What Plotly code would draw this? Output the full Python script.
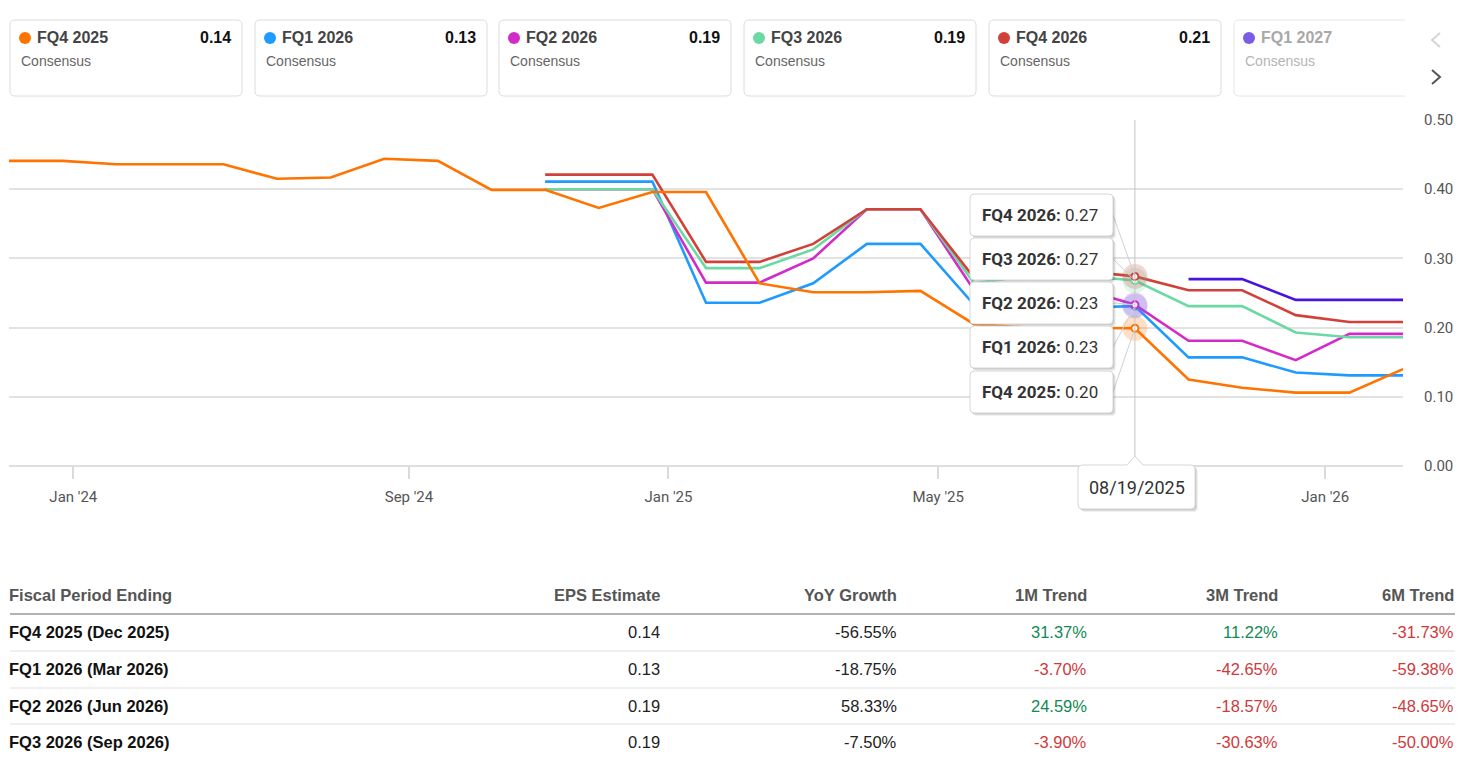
import plotly.graph_objects as go

# ---------------- data ----------------
series_names = ["FQ4 2025", "FQ1 2026", "FQ2 2026", "FQ3 2026", "FQ4 2026", "FQ1 2027"]
series_colors = ["#ff7300", "#1f9bff", "#d22bc8", "#6bd9a3", "#d1413a", "#4b12d9"]

fq4_2025 = [0.441, 0.441, 0.436, 0.436, 0.436, 0.415, 0.417, 0.444, 0.441, 0.399, 0.399, 0.373, 0.396, 0.396,
            0.264, 0.251, 0.251, 0.253, 0.205, 0.200, 0.199, 0.199, 0.125, 0.113, 0.106, 0.106, 0.140]
fq1_2026 = [None] * 10 + [0.411, 0.411, 0.411, 0.236, 0.236, 0.264, 0.321, 0.321, 0.233, 0.229, 0.229, 0.231,
                          0.157, 0.157, 0.135, 0.131, 0.131]
fq2_2026 = [None] * 10 + [0.400, 0.400, 0.400, 0.265, 0.265, 0.300, 0.371, 0.371, 0.254, 0.256, 0.256, 0.233,
                          0.181, 0.181, 0.153, 0.191, 0.191]
fq3_2026 = [None] * 10 + [0.400, 0.400, 0.400, 0.286, 0.286, 0.313, 0.371, 0.371, 0.264, 0.275, 0.275, 0.268,
                          0.231, 0.231, 0.193, 0.186, 0.186]
fq4_2026 = [None] * 10 + [0.421, 0.421, 0.421, 0.295, 0.295, 0.321, 0.371, 0.371, 0.272, 0.282, 0.282, 0.274,
                          0.254, 0.254, 0.218, 0.208, 0.208]
fq1_2027 = [None] * 22 + [0.270, 0.270, 0.240, 0.240, 0.240]
series_values = [fq4_2025, fq1_2026, fq2_2026, fq3_2026, fq4_2026, fq1_2027]

x_labels = ["Jan '24", "Sep '24", "Jan '25", "May '25", "Jan '26"]
x_label_positions = [1.2, 7.46, 12.3, 17.33, 24.55]
y_ticks = [0.0, 0.1, 0.2, 0.3, 0.4, 0.5]

hover_index = 21
hover_date = "08/19/2025"
tooltip_order = ["FQ4 2026", "FQ3 2026", "FQ2 2026", "FQ1 2026", "FQ4 2025"]

table_header = ["Fiscal Period Ending", "EPS Estimate", "YoY Growth", "1M Trend", "3M Trend", "6M Trend"]
periods = ["FQ4 2025 (Dec 2025)", "FQ1 2026 (Mar 2026)", "FQ2 2026 (Jun 2026)", "FQ3 2026 (Sep 2026)"]
eps_estimate = [0.14, 0.13, 0.19, 0.19]
yoy_growth = [-56.55, -18.75, 58.33, -7.50]
trend_1m = [31.37, -3.70, 24.59, -3.90]
trend_3m = [11.22, -42.65, -18.57, -30.63]
trend_6m = [-31.73, -59.38, -48.65, -50.00]

# ---------------- geometry helpers ----------------
PAGE_OFF = 8                      # page body margin
W, H = 1473 - 2 * PAGE_OFF, 761 - 2 * PAGE_OFF
PLOT_L, PLOT_R, PLOT_T, PLOT_B = 9, 1403, 120, 466
N = len(fq4_2025)
Y_MAX = 0.5


def px(x):
    return (x - PAGE_OFF) / W


def py(y):
    return 1 - (y - PAGE_OFF) / H


def val_to_pix_y(v):
    return PLOT_B - v / Y_MAX * (PLOT_B - PLOT_T)


def idx_to_pix_x(i):
    return PLOT_L + i * (PLOT_R - PLOT_L) / (N - 1)


def rrect(x0, y0, x1, y1, r, notch=None):
    rx, ry = r / W, r / H
    X0, X1, Y0, Y1 = px(x0), px(x1), py(y0), py(y1)
    p = f"M{X0 + rx},{Y0} "
    if notch:
        cx, hw, hh = notch
        p += f"L{px(cx - hw)},{Y0} L{px(cx)},{py(y0 - hh)} L{px(cx + hw)},{Y0} "
    p += (f"L{X1 - rx},{Y0} Q{X1},{Y0} {X1},{Y0 - ry} L{X1},{Y1 + ry} Q{X1},{Y1} {X1 - rx},{Y1} "
          f"L{X0 + rx},{Y1} Q{X0},{Y1} {X0},{Y1 + ry} L{X0},{Y0 - ry} Q{X0},{Y0} {X0 + rx},{Y0} Z")
    return p


shapes = []
annotations = []

# ---------------- traces ----------------
fig = go.Figure()
xs = list(range(N))
draw_order = [1, 2, 3, 4, 5, 0]
for k in draw_order:
    fig.add_trace(go.Scatter(x=xs, y=series_values[k], mode="lines", name=series_names[k],
                             line=dict(color=series_colors[k], width=2.6), connectgaps=False,
                             hoverinfo="skip", showlegend=False))

# crosshair
shapes.append(dict(type="line", xref="x", yref="paper", x0=hover_index, x1=hover_index,
                   y0=py(PLOT_T), y1=py(457), line=dict(color="#c4c4c4", width=1), layer="above"))

# hover markers
name_to_idx = {n: i for i, n in enumerate(series_names)}
for n in tooltip_order[::-1]:
    k = name_to_idx[n]
    v = series_values[k][hover_index]
    fig.add_trace(go.Scatter(x=[hover_index], y=[v], mode="markers", hoverinfo="skip", showlegend=False,
                             marker=dict(size=25, color=series_colors[k], opacity=0.22)))
for n in tooltip_order[::-1]:
    k = name_to_idx[n]
    v = series_values[k][hover_index]
    fig.add_trace(go.Scatter(x=[hover_index], y=[v], mode="markers", hoverinfo="skip", showlegend=False,
                             marker=dict(size=7, color="white", line=dict(color=series_colors[k], width=2))))

# ---------------- tooltips ----------------
tip_x0, tip_x1 = 970, 1113
tip_tops = [194, 238, 282, 326, 371]
tip_h = 42
hx = idx_to_pix_x(hover_index)
for n, top in zip(tooltip_order, tip_tops):
    k = name_to_idx[n]
    v = series_values[k][hover_index]
    mid = top + tip_h / 2
    shapes.append(dict(type="line", xref="paper", yref="paper", x0=px(tip_x1), y0=py(mid),
                       x1=px(hx), y1=py(val_to_pix_y(v)), line=dict(color="#d0d0d0", width=1), layer="above"))
for n, top in zip(tooltip_order, tip_tops):
    k = name_to_idx[n]
    v = series_values[k][hover_index]
    for off, a in [(3, 0.06), (2, 0.08), (1, 0.10)]:
        shapes.append(dict(type="path", xref="paper", yref="paper",
                           path=rrect(tip_x0 + off, top + off, tip_x1 + off, top + tip_h + off, 4),
                           fillcolor=f"rgba(0,0,0,{a})", line=dict(width=0), layer="above"))
    shapes.append(dict(type="path", xref="paper", yref="paper", path=rrect(tip_x0, top, tip_x1, top + tip_h, 4),
                       fillcolor="white", line=dict(color="#d6d6d6", width=1), layer="above"))
    annotations.append(dict(xref="paper", yref="paper", x=px(tip_x0 + 10), y=py(top + tip_h / 2),
                            xanchor="left", yanchor="middle", showarrow=False,
                            text=f"<b>{n}:</b> {v:.2f}",
                            font=dict(family="Roboto", size=17, color="#333333")))

# date box
dx0, dx1, dy0, dy1 = 1078, 1195, 465, 509
for off, a in [(3, 0.06), (2, 0.08), (1, 0.10)]:
    shapes.append(dict(type="path", xref="paper", yref="paper",
                       path=rrect(dx0 + off, dy0 + off, dx1 + off, dy1 + off, 4),
                       fillcolor=f"rgba(0,0,0,{a})", line=dict(width=0), layer="above"))
shapes.append(dict(type="path", xref="paper", yref="paper",
                   path=rrect(dx0, dy0, dx1, dy1, 4, notch=(hx, 8, 9)),
                   fillcolor="white", line=dict(color="#d6d6d6", width=1), layer="above"))
annotations.append(dict(xref="paper", yref="paper", x=px((dx0 + dx1) / 2), y=py((dy0 + dy1) / 2),
                        xanchor="center", yanchor="middle", showarrow=False, text=hover_date,
                        font=dict(family="Roboto", size=18, color="#333333")))

# ---------------- legend cards ----------------
card_x = [10, 255, 499, 744, 989, 1234]
card_w = 232
card_t, card_b = 20, 96
for i, (n, c, vals) in enumerate(zip(series_names, series_colors, series_values)):
    x0 = card_x[i]
    faded = (i == len(series_names) - 1)
    if not faded:
        shapes.append(dict(type="path", xref="paper", yref="paper", path=rrect(x0, card_t, x0 + card_w, card_b, 5),
                           fillcolor="white", line=dict(color="#dcdcdc", width=1)))
    else:
        rx, ry = 5 / W, 5 / H
        X0, X1, Y0, Y1 = px(x0), px(1405), py(card_t), py(card_b)
        path = (f"M{X1},{Y0} L{X0 + rx},{Y0} Q{X0},{Y0} {X0},{Y0 - ry} L{X0},{Y1 + ry} "
                f"Q{X0},{Y1} {X0 + rx},{Y1} L{X1},{Y1}")
        shapes.append(dict(type="path", xref="paper", yref="paper", path=path,
                           line=dict(color="#e6e6e6", width=1)))
    dot_c = "#7b5ce6" if faded else c
    shapes.append(dict(type="circle", xref="paper", yref="paper", x0=px(x0 + 9), x1=px(x0 + 21),
                       y0=py(32), y1=py(44), fillcolor=dot_c, line=dict(width=0)))
    annotations.append(dict(xref="paper", yref="paper", x=px(x0 + 25), y=py(38), xanchor="left", yanchor="middle",
                            showarrow=False, text=f"<b>{n}</b>",
                            font=dict(family="Liberation Sans, Arial", size=16,
                                      color="#a8a8a8" if faded else "#444444")))
    annotations.append(dict(xref="paper", yref="paper", x=px(x0 + 9), y=py(61), xanchor="left", yanchor="middle",
                            showarrow=False, text="Consensus",
                            font=dict(family="Liberation Sans, Arial", size=14,
                                      color="#b5b5b5" if faded else "#666666")))
    if not faded:
        last = [v for v in vals if v is not None][-1]
        annotations.append(dict(xref="paper", yref="paper", x=px(x0 + card_w - 9), y=py(38), xanchor="right",
                                yanchor="middle", showarrow=False, text=f"<b>{last:.2f}</b>",
                                font=dict(family="Liberation Sans, Arial", size=16, color="#111111")))

# nav chevrons
shapes.append(dict(type="path", xref="paper", yref="paper",
                   path=f"M{px(1440)},{py(33)} L{px(1432)},{py(40)} L{px(1440)},{py(47)}",
                   line=dict(color="#d4d4d4", width=2)))
shapes.append(dict(type="path", xref="paper", yref="paper",
                   path=f"M{px(1432)},{py(70)} L{px(1440)},{py(77)} L{px(1432)},{py(84)}",
                   line=dict(color="#555555", width=2)))

# ---------------- table ----------------
col_right = [None, 659, 896, 1086, 1277, 1453]
ANN_PAD = 3   # annotation inner padding
header_y = 595
row_y = [632, 669, 706, 742]
tfont = "Liberation Sans, Arial"
TSIZE = 16.5
for j, h in enumerate(table_header):
    if j == 0:
        annotations.append(dict(xref="paper", yref="paper", x=px(10 - ANN_PAD), y=py(header_y), xanchor="left",
                                yanchor="middle", showarrow=False, text=f"<b>{h}</b>",
                                font=dict(family=tfont, size=TSIZE, color="#555555")))
    else:
        annotations.append(dict(xref="paper", yref="paper", x=px(col_right[j] + ANN_PAD), y=py(header_y),
                                xanchor="right", yanchor="middle", showarrow=False, text=f"<b>{h}</b>",
                                font=dict(family=tfont, size=TSIZE, color="#555555")))
shapes.append(dict(type="line", xref="paper", yref="paper", x0=px(10), x1=px(1455), y0=py(614), y1=py(614),
                   line=dict(color="#9a9a9a", width=1.5)))
for sy in [651, 688, 724]:
    shapes.append(dict(type="line", xref="paper", yref="paper", x0=px(10), x1=px(1455), y0=py(sy), y1=py(sy),
                       line=dict(color="#e0e0e0", width=1)))

GREEN, RED = "#138a52", "#d0393b"
for r, yrow in enumerate(row_y):
    annotations.append(dict(xref="paper", yref="paper", x=px(10 - ANN_PAD), y=py(yrow), xanchor="left",
                            yanchor="middle", showarrow=False, text=f"<b>{periods[r]}</b>",
                            font=dict(family=tfont, size=TSIZE, color="#111111")))
    cells = [(f"{eps_estimate[r]:.2f}", "#222222"), (f"{yoy_growth[r]:.2f}%", "#222222")]
    for t in (trend_1m[r], trend_3m[r], trend_6m[r]):
        cells.append((f"{t:.2f}%", GREEN if t > 0 else RED))
    for j, (txt, colr) in enumerate(cells, start=1):
        annotations.append(dict(xref="paper", yref="paper", x=px(col_right[j] + ANN_PAD), y=py(yrow),
                                xanchor="right", yanchor="middle", showarrow=False, text=txt,
                                font=dict(family=tfont, size=TSIZE, color=colr)))

# ---------------- layout ----------------
fig.update_layout(
    width=W, height=H, margin=dict(l=0, r=0, t=0, b=0),
    paper_bgcolor="white", plot_bgcolor="white",
    showlegend=False, hovermode=False,
    shapes=shapes, annotations=annotations,
    xaxis=dict(domain=[px(PLOT_L), px(PLOT_R)], range=[0, N - 1], tickmode="array",
               tickvals=x_label_positions, ticktext=x_labels, showgrid=False, zeroline=False,
               showline=False, ticks="outside", ticklen=12, tickwidth=1.5, tickcolor="#dadada",
               ticklabelstandoff=5, tickfont=dict(family="Roboto", size=15, color="#555555"),
               automargin=False, fixedrange=True),
    yaxis=dict(domain=[py(PLOT_B), py(PLOT_T)], range=[0, Y_MAX], side="right", tickmode="array",
               tickvals=y_ticks, ticktext=[f"{t:.2f}" for t in y_ticks], showgrid=True,
               gridcolor="#e2e2e2", gridwidth=1.5, zeroline=True, zerolinecolor="#dedede",
               zerolinewidth=2, showline=False, ticks="", ticklabelstandoff=20,
               tickfont=dict(family="Roboto", size=15, color="#555555"), automargin=False, fixedrange=True),
)

fig.write_html("out.html")
